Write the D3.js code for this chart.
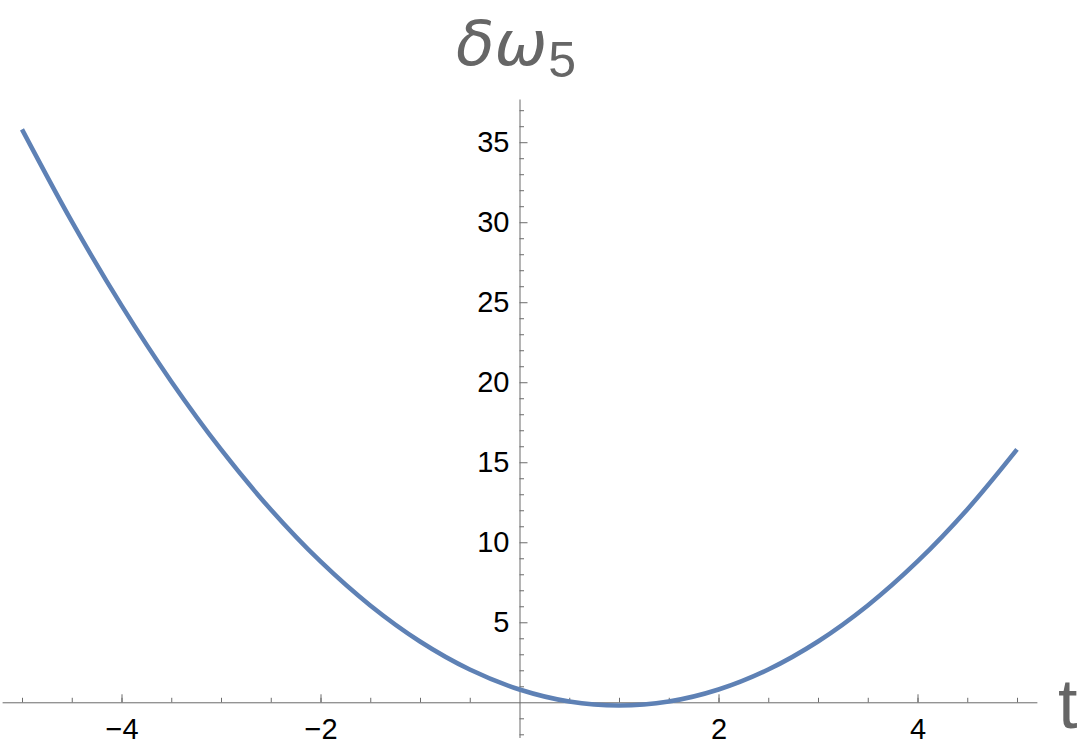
<!DOCTYPE html>
<html>
<head>
<meta charset="utf-8">
<script src="https://cdn.jsdelivr.net/npm/d3@7"></script>
<style>
  body { margin: 0; background: #fff; }
  svg { display: block; }
</style>
</head>
<body>
<svg width="1080" height="745"></svg>
<script>
// values, t step 0.5
var tValues = [-5, -4.5, -4, -3.5, -3, -2.5, -2, -1.5, -1, -0.5, 0,
               0.5, 1, 1.5, 2, 2.5, 3, 3.5, 4, 4.5, 5];
var dwValues = [35.8, 30.05, 24.8, 20.05, 15.8, 12.05, 8.8, 6.05, 3.8, 2.05, 0.8,
                0.05, -0.2, 0.05, 0.8, 2.05, 3.8, 6.05, 8.8, 12.05, 15.8];

var xMajor = [-4, -2, 2, 4];
var xMinor = [-5, -4.5, -4, -3.5, -3, -2.5, -2, -1.5, -1, -0.5, 0.5, 1, 1.5, 2, 2.5, 3, 3.5, 4, 4.5, 5];
var yMajor = [5, 10, 15, 20, 25, 30, 35];
var yMinor = [-2, -1, 1, 2, 3, 4, 6, 7, 8, 9, 11, 12, 13, 14, 16, 17, 18, 19,
              21, 22, 23, 24, 26, 27, 28, 29, 31, 32, 33, 34, 36, 37];

var svg = d3.select('svg');

var x = d3.scaleLinear().domain([-5.2, 5.2]).range([2.1, 1036.9]);
var y = d3.scaleLinear().domain([-2.2, 37.7]).range([737.5, 99]);

var axisColor = '#6b6b6b';

// x axis
var gx = svg.append('g').attr('transform', 'translate(0,' + y(0) + ')');
gx.call(d3.axisBottom(x).tickValues(xMinor).tickSize(-4.5).tickSizeOuter(0).tickFormat(''));
gx.append('g').call(d3.axisBottom(x).tickValues(xMajor).tickSize(-8).tickSizeOuter(0).tickPadding(16))
  .select('.domain').remove();

// y axis
var gy = svg.append('g').attr('transform', 'translate(' + x(0) + ',0)');
gy.call(d3.axisLeft(y).tickValues(yMinor).tickSize(-4.5).tickSizeOuter(0).tickFormat(''));
gy.append('g').call(d3.axisLeft(y).tickValues(yMajor).tickSize(-8).tickSizeOuter(0).tickPadding(10))
  .select('.domain').remove();

svg.selectAll('.domain, .tick line').attr('stroke', axisColor).attr('stroke-width', 1);
svg.selectAll('.tick text')
  .attr('fill', '#000')
  .style('font-family', '"Liberation Sans", Arial, sans-serif')
  .style('font-size', '29px');

// curve
var line = d3.line()
  .x(function(d, i) { return x(tValues[i]); })
  .y(function(d) { return y(d); })
  .curve(d3.curveCatmullRom.alpha(0.5));

svg.append('path')
  .datum(dwValues)
  .attr('d', line)
  .attr('fill', 'none')
  .attr('stroke', '#5e81b5')
  .attr('stroke-width', 4.5)
  .attr('stroke-linecap', 'butt');

// axis labels
var title = svg.append('text')
  .attr('x', 456).attr('y', 65)
  .attr('fill', '#666')
  .style('font-family', '"DejaVu Sans", sans-serif');
title.append('tspan').text('δω').style('font-size', '63px').style('font-style', 'italic');
title.append('tspan').text('5').attr('dy', 12).attr('dx', 1)
  .style('font-size', '50px').style('font-family', '"Liberation Sans", Arial, sans-serif');

svg.append('text')
  .attr('x', 1058).attr('y', 728)
  .attr('fill', '#666')
  .style('font-family', '"Liberation Sans", Arial, sans-serif')
  .style('font-size', '70px')
  .text('t');
</script>
</body>
</html>
